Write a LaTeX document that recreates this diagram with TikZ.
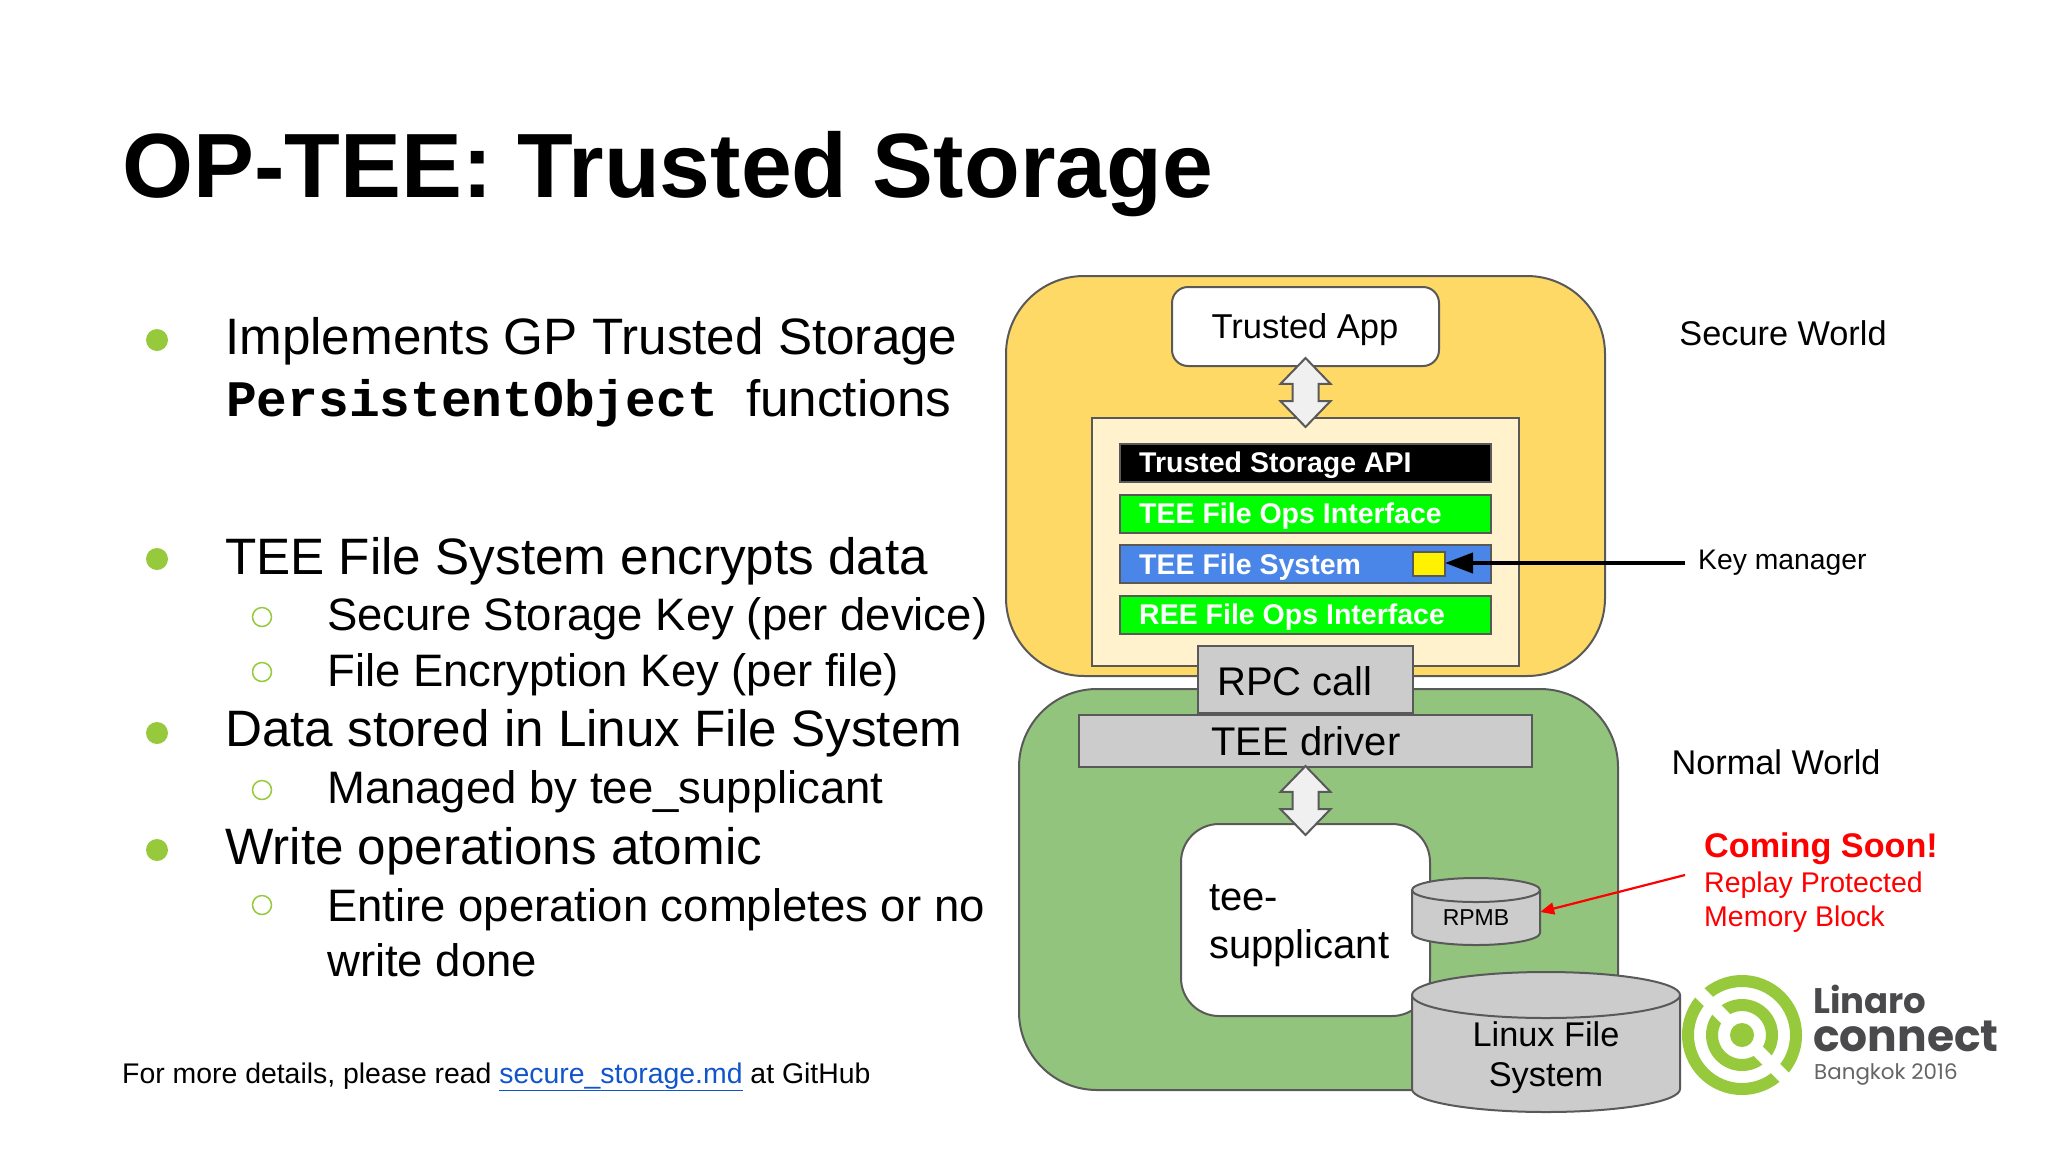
\documentclass[tikz,border=0pt]{standalone}
\usepackage{fontspec}
\setmainfont{Liberation Sans}
\setmonofont{Liberation Mono}
\newfontfamily\logofont{Poppins}
\usetikzlibrary{shapes.arrows,arrows.meta,calc}
\definecolor{edgegray}{HTML}{595959}
\definecolor{worldyellow}{HTML}{FFD966}
\definecolor{innercream}{HTML}{FFF2CC}
\definecolor{worldgreen}{HTML}{93C47D}
\definecolor{blockgray}{HTML}{CCCCCC}
\definecolor{barblue}{HTML}{4A86E8}
\definecolor{bargreen}{HTML}{00FF00}
\definecolor{lightgreen}{HTML}{97C93D}
\definecolor{linkblue}{HTML}{1155CC}
\definecolor{logogray}{HTML}{4A4A4D}
\newcommand{\fsz}[1]{\fontsize{#1pt}{#1pt}\selectfont}
% drum outline: x0, x1, ytop, ybottom, x radius, y radius
\newcommand{\drumshape}[6]{%
  \draw[drumline] (#1,#3+#6) arc[start angle=180,end angle=0,x radius=#5pt,y radius=#6pt]
    -- (#2,#4-#6) arc[start angle=0,end angle=-180,x radius=#5pt,y radius=#6pt] -- cycle;
  \draw[drumline] (#1,#3+#6) arc[start angle=180,end angle=360,x radius=#5pt,y radius=#6pt];
}
\tikzset{
  box/.style={draw=edgegray,line width=2pt,inner sep=0pt,outer sep=0pt,anchor=north west},
  world/.style={box,rounded corners=78pt},
  bar/.style={box,minimum width=372pt,minimum height=38pt},
  txt/.style={inner sep=0pt,anchor=base west},
  ctxt/.style={inner sep=0pt,anchor=base},
  main/.style={txt,font=\fsz{51.2}},
  sub/.style={txt,font=\fsz{45.5}},
  bartext/.style={txt,font=\bfseries\fsz{28.5},text=white},
  redtext/.style={txt,font=\fsz{28.5},text=red},
  bigdot/.style={circle,fill=lightgreen,minimum size=22pt,inner sep=0pt},
  smalldot/.style={circle,draw=lightgreen,line width=1.5pt,minimum size=19pt,inner sep=0pt},
  blockarrow/.style={double arrow,draw=edgegray,line width=2pt,fill=black!6,rotate=90,inner sep=0pt,outer sep=0pt,
    minimum height=69pt,double arrow head extend=12pt,double arrow tip angle=88},
  drumline/.style={draw=edgegray,line width=2pt,fill=blockgray},
}
\begin{document}
\begin{tikzpicture}[x=1pt,y=-1pt]
\useasboundingbox (0,0) rectangle (2048,1152);

% title and list
\node[txt,font=\bfseries\fsz{91.3}] (title) at (122,197) {OP-TEE: Trusted Storage};
\node[bigdot] (b1) at (157,340) {};
\node[bigdot] (b2) at (157,559) {};
\node[bigdot] (b3) at (157,733) {};
\node[bigdot] (b4) at (157,850) {};
\node[smalldot] (s1) at (262,617) {};
\node[smalldot] (s2) at (262,672) {};
\node[smalldot] (s3) at (262,790) {};
\node[smalldot] (s4) at (262,905) {};
\node[main] (t1) at (225,354) {Implements GP Trusted Storage};
\node[main,font=\ttfamily\bfseries\fsz{51.2}] (t2) at (226,416) {PersistentObject};
\node[main] (t2b) at (746,416) {functions};
\node[main] (t3) at (225,574) {TEE File System encrypts data};
\node[sub] (t4) at (327,630) {Secure Storage Key (per device)};
\node[sub] (t5) at (327,686) {File Encryption Key (per file)};
\node[main] (t6) at (225,746) {Data stored in Linux File System};
\node[sub] (t7) at (327,803) {Managed by tee\_supplicant};
\node[main] (t8) at (225,864) {Write operations atomic};
\node[sub] (t9) at (327,921) {Entire operation completes or no};
\node[sub] (t10) at (327,976) {write done};
\node[txt,font=\fsz{28.4}] (foot) at (122,1083) {For more details, please read {\color{linkblue}\underline{secure\_storage.md}} at GitHub};

% worlds
\node[world,fill=worldyellow,minimum width=599pt,minimum height=400pt] (secure) at (1006,276) {};
\node[world,fill=worldgreen,minimum width=599pt,minimum height=401pt] (normal) at (1019,689) {};
\node[box,fill=innercream,minimum width=427pt,minimum height=248pt] (inner) at (1092,418) {};
\node[box,fill=white,rounded corners=16pt,minimum width=267pt,minimum height=79pt] (app) at (1172,287) {};
\node[ctxt,font=\fsz{34.5}] (appt) at (1305,338) {Trusted App};

% interface bars
\node[bar,fill=black,minimum width=371pt] (api) at (1120,444) {};
\node[bar,fill=bargreen,minimum width=371pt] (teeops) at (1120,495) {};
\node[bar,fill=barblue,minimum width=371pt] (teefs) at (1120,545) {};
\node[bar,fill=bargreen,minimum width=371pt] (reeops) at (1120,596) {};
\node[bartext] (apit) at (1139,472) {Trusted Storage API};
\node[bartext] (teeopst) at (1139,523) {TEE File Ops Interface};
\node[bartext] (teefst) at (1139,574) {TEE File System};
\node[bartext] (reeopst) at (1139,624) {REE File Ops Interface};
\node[box,fill=yellow,minimum width=32pt,minimum height=24pt] (key) at (1413,552) {};

% RPC and driver
\node[box,fill=blockgray,minimum width=215pt,minimum height=67pt] (rpc) at (1198,646) {};
\node[txt,font=\fsz{40}] (rpct) at (1217,695) {RPC call};
\node[box,fill=blockgray,minimum width=453pt,minimum height=52pt] (driver) at (1079,715) {};
\node[ctxt,font=\fsz{40}] (drivert) at (1306,755) {TEE driver};

% block arrows
\node[blockarrow] (arrowa) at (1305.5,392.5) {\phantom{\rule{1pt}{24pt}}};
\node[box,fill=white,rounded corners=38pt,minimum width=249pt,minimum height=192pt] (supp) at (1181,824) {};
\node[blockarrow] (arrowb) at (1305.5,800.5) {\phantom{\rule{1pt}{24pt}}};
\node[txt,font=\fsz{40}] (supp1) at (1209,910) {tee-};
\node[txt,font=\fsz{40}] (supp2) at (1209,958) {supplicant};

% storage drums
\drumshape{1412}{1540}{878}{945}{64}{12}
\node[inner sep=0pt,minimum width=128pt,minimum height=43pt] (rpmb) at (1476,912) {};
\node[ctxt,font=\fsz{23}] (rpmbt) at (1476,925) {RPMB};
\drumshape{1412}{1680}{972}{1112}{134}{23}
\node[inner sep=0pt,minimum width=268pt,minimum height=94pt] (lfs) at (1546,1042) {};
\node[ctxt,font=\fsz{34.3}] (lfs1) at (1546,1046) {Linux File};
\node[ctxt,font=\fsz{34.3}] (lfs2) at (1546,1086) {System};

% side labels
\node[ctxt,font=\fsz{34.3}] (sw) at (1783,345) {Secure World};
\node[ctxt,font=\fsz{34.3}] (nw) at (1776,774) {Normal World};
\node[txt,font=\fsz{28.3}] (km) at (1698,569) {Key manager};
\coordinate (kmend) at (1685,563);
\draw[black,line width=4pt,-{Triangle[length=28pt,width=20pt]}] (kmend) -- (key.east |- kmend);
\node[txt,font=\bfseries\fsz{34.2},text=red] (soon) at (1704,857) {Coming Soon!};
\node[redtext] (rp1) at (1704,892) {Replay Protected};
\node[redtext] (rp2) at (1704,926) {Memory Block};
\coordinate (redend) at (1685,875);
\draw[red,line width=2.2pt,-{Triangle[length=14pt,width=12pt]}] (redend) -- (rpmb.east);

% logo
\coordinate (lc) at (1742,1035);
\fill[lightgreen,even odd rule] (lc) circle[radius=60] (lc) circle[radius=48];
\fill[lightgreen,even odd rule] (lc) circle[radius=36] (lc) circle[radius=24];
\draw[white,line width=13pt] ($(lc)+(-15,-15)$) -- ($(lc)+(-50,-50)$);
\draw[white,line width=13pt] ($(lc)+(15,15)$) -- ($(lc)+(50,50)$);
\fill[lightgreen] (lc) circle[radius=12];
\node[txt,font=\logofont\bfseries\fsz{35.5},text=logogray] (lin) at (1813,1013) {Linaro};
\node[txt,font=\logofont\bfseries\fsz{44},text=logogray] (con) at (1813,1051) {connect};
\node[txt,font=\logofont\fsz{21.4},text=logogray!85] (bkk) at (1814,1079) {Bangkok 2016};
\end{tikzpicture}
\end{document}
